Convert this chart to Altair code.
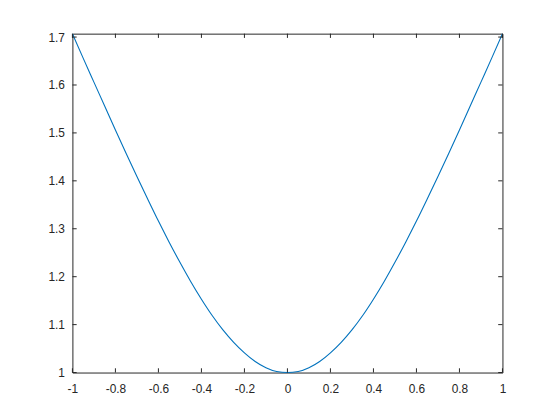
import altair as alt
import pandas as pd

# values
x_vals = [-1.0, -0.95, -0.9, -0.85, -0.8, -0.75, -0.7, -0.65, -0.6, -0.55, -0.5,
          -0.45, -0.4, -0.35, -0.3, -0.25, -0.2, -0.15, -0.1, -0.05, 0.0,
          0.05, 0.1, 0.15, 0.2, 0.25, 0.3, 0.35, 0.4, 0.45, 0.5,
          0.55, 0.6, 0.65, 0.7, 0.75, 0.8, 0.85, 0.9, 0.95, 1.0]
y_vals = [1.707, 1.656, 1.606, 1.556, 1.506, 1.457, 1.409, 1.362, 1.316, 1.272, 1.230,
          1.190, 1.153, 1.119, 1.089, 1.063, 1.041, 1.023, 1.010, 1.002, 1.000,
          1.002, 1.010, 1.023, 1.041, 1.063, 1.089, 1.119, 1.153, 1.190, 1.230,
          1.272, 1.316, 1.362, 1.409, 1.457, 1.506, 1.556, 1.606, 1.656, 1.707]
x_ticks = [-1.0, -0.8, -0.6, -0.4, -0.2, 0.0, 0.2, 0.4, 0.6, 0.8, 1.0]
y_ticks = [1.0, 1.1, 1.2, 1.3, 1.4, 1.5, 1.6, 1.7]
x_domain = [-1.0, 1.0]
y_domain = [1.0, 1.7071]

W, H = 434, 342
TL = 4.3
AX = "#262626"
FONT = "Liberation Sans"

line_df = pd.DataFrame({"x": x_vals, "y": y_vals})
xt_df = pd.DataFrame({"xt": x_ticks})
yt_df = pd.DataFrame({"yt": y_ticks})

lab = "datum.value < 0 ? '-' + format(-datum.value, '.1~f') : format(datum.value, '.1~f')"

xs = alt.Scale(domain=x_domain, nice=False, zero=False)
ys = alt.Scale(domain=y_domain, nice=False, zero=False)
xa = alt.Axis(values=x_ticks, labelExpr=lab, ticks=False, domain=False,
              grid=False, labelPadding=11, labelFontSize=12, labelFlush=False,
              labelOverlap=False, labelFont=FONT, labelColor=AX, title=None)
ya = alt.Axis(values=y_ticks, labelExpr=lab, ticks=False, domain=False,
              grid=False, labelPadding=8, labelFontSize=12, labelFlush=False,
              labelOverlap=False, labelFont=FONT, labelColor=AX, title=None)

line = alt.Chart(line_df).mark_line(color="#0072BD", strokeWidth=1.1,
                                    interpolate="monotone").encode(
    x=alt.X("x:Q", scale=xs, axis=xa, title=None),
    y=alt.Y("y:Q", scale=ys, axis=ya, title=None),
)

xb = alt.Chart(xt_df).mark_rule(color=AX, strokeWidth=1).encode(
    x=alt.X("xt:Q", scale=xs, axis=xa, title=None), y=alt.value(H), y2=alt.value(H - TL))
xtp = alt.Chart(xt_df).mark_rule(color=AX, strokeWidth=1).encode(
    x=alt.X("xt:Q", scale=xs, axis=xa, title=None), y=alt.value(0), y2=alt.value(TL))
yl = alt.Chart(yt_df).mark_rule(color=AX, strokeWidth=1).encode(
    y=alt.Y("yt:Q", scale=ys, axis=ya, title=None), x=alt.value(0), x2=alt.value(TL))
yr = alt.Chart(yt_df).mark_rule(color=AX, strokeWidth=1).encode(
    y=alt.Y("yt:Q", scale=ys, axis=ya, title=None), x=alt.value(W), x2=alt.value(W - TL))

chart = alt.layer(line, xb, xtp, yl, yr).properties(
    width=W, height=H,
    autosize=alt.AutoSizeParams(type="none"),
    padding={"left": 65, "top": 24, "right": 50, "bottom": 46},
    background="white",
).configure_view(stroke=AX, strokeWidth=1)

chart.save("out.html", embed_options={"renderer": "svg", "actions": False})
